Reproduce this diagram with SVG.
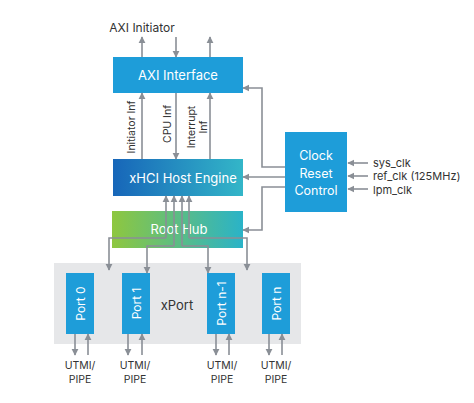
<svg xmlns="http://www.w3.org/2000/svg" width="474" height="403" viewBox="0 0 474 403">
<defs>
<style>
.box{fill:#1e9dd9}
.t{font-family:Inter,"Noto Sans",sans-serif;fill:#fff;text-anchor:middle;dominant-baseline:central}
.d{font-family:Inter,"Noto Sans",sans-serif;fill:#333;dominant-baseline:central}
.ln{fill:none;stroke:#8a8f96;stroke-width:1.6}
.ar{fill:none;stroke:#8a8f96;stroke-width:1.6;marker-end:url(#ah)}
</style>
<marker id="ah" viewBox="0 0 10 10" refX="9" refY="5" markerWidth="4.5" markerHeight="4.5" orient="auto" markerUnits="strokeWidth">
<path d="M0,0 L10,5 L0,10 z" fill="#8a8f96"/>
</marker>
<linearGradient id="gx" x1="0" y1="0" x2="1" y2="0">
<stop offset="0" stop-color="#1766b9"/>
<stop offset="1" stop-color="#33b6c8"/>
</linearGradient>
<linearGradient id="gr" x1="0" y1="0" x2="1" y2="0">
<stop offset="0" stop-color="#8ec73f"/>
<stop offset="1" stop-color="#2ab3c8"/>
</linearGradient>
</defs>
<rect width="474" height="403" fill="#fff"/>

<g id="xport-area">
<rect x="54" y="263" width="247" height="81" fill="#e6e7e9"/>
<text class="d" x="177" y="305" font-size="13" text-anchor="middle">xPort</text>
</g>

<g id="axi-initiator-label">
<text class="d" x="142" y="27" font-size="12" text-anchor="middle">AXI Initiator</text>
</g>

<g id="axi-interface">
<rect class="box" x="113" y="57" width="130" height="36"/>
<text class="t" x="178" y="75" font-size="13">AXI Interface</text>
</g>

<g id="xhci-host-engine">
<rect x="113" y="159" width="130" height="37" fill="url(#gx)"/>
<text class="t" x="183" y="177.5" font-size="13">xHCI Host Engine</text>
</g>

<g id="root-hub">
<rect x="112" y="211" width="131" height="37" fill="url(#gr)"/>
<text class="t" x="179" y="228.5" font-size="13">Root Hub</text>
</g>

<g id="clock-reset-control">
<rect class="box" x="285" y="132" width="62" height="80"/>
<text class="t" x="316" y="155" font-size="12.5">Clock</text>
<text class="t" x="316" y="173" font-size="12.5">Reset</text>
<text class="t" x="316" y="190" font-size="12.5">Control</text>
</g>

<g id="port-0">
<rect class="box" x="66" y="273" width="28" height="61"/>
<text class="t" transform="translate(80,303.5) rotate(-90)" font-size="12">Port 0</text>
</g>
<g id="port-1">
<rect class="box" x="122" y="273" width="28" height="61"/>
<text class="t" transform="translate(136,303.5) rotate(-90)" font-size="12">Port 1</text>
</g>
<g id="port-n-1">
<rect class="box" x="207" y="273" width="28" height="61"/>
<text class="t" transform="translate(221,303.5) rotate(-90)" font-size="12">Port n-1</text>
</g>
<g id="port-n">
<rect class="box" x="262" y="273" width="28" height="61"/>
<text class="t" transform="translate(276,303.5) rotate(-90)" font-size="12">Port n</text>
</g>

<g id="labels">
<text class="d" transform="translate(131,127) rotate(-90)" font-size="10.5" text-anchor="middle">Initiator Inf</text>
<text class="d" transform="translate(167,124) rotate(-90)" font-size="10.5" text-anchor="middle">CPU Inf</text>
<text class="d" transform="translate(191,127) rotate(-90)" font-size="10.5" text-anchor="middle">Interrupt</text>
<text class="d" transform="translate(203,127) rotate(-90)" font-size="10.5" text-anchor="middle">Inf</text>
<text class="d" x="373" y="162.5" font-size="11">sys_clk</text>
<text class="d" x="373" y="176" font-size="11">ref_clk (125MHz)</text>
<text class="d" x="373" y="189.5" font-size="11">lpm_clk</text>
<text class="d" x="80" y="365" font-size="10.5" text-anchor="middle">UTMI/</text>
<text class="d" x="80" y="379" font-size="10.5" text-anchor="middle">PIPE</text>
<text class="d" x="135" y="365" font-size="10.5" text-anchor="middle">UTMI/</text>
<text class="d" x="135" y="379" font-size="10.5" text-anchor="middle">PIPE</text>
<text class="d" x="222" y="365" font-size="10.5" text-anchor="middle">UTMI/</text>
<text class="d" x="222" y="379" font-size="10.5" text-anchor="middle">PIPE</text>
<text class="d" x="276" y="365" font-size="10.5" text-anchor="middle">UTMI/</text>
<text class="d" x="276" y="379" font-size="10.5" text-anchor="middle">PIPE</text>
</g>

<g id="connectors">
<path class="ar" d="M142,57 V37"/>
<path class="ar" d="M176,37 V57"/>
<path class="ar" d="M210,57 V37"/>
<path class="ar" d="M142,159 V93"/>
<path class="ar" d="M176,93 V159"/>
<path class="ar" d="M210,159 V93"/>
<path class="ar" d="M285,167 H262 V88 H243"/>
<path class="ar" d="M285,177 H243"/>
<path class="ar" d="M285,187 H262 V230 H243"/>
<path class="ar" d="M368,163 H348"/>
<path class="ar" d="M368,176 H348"/>
<path class="ar" d="M368,189 H348"/>
<path class="ar" d="M166,238 V196"/>
<path class="ar" d="M174,246 V196"/>
<path class="ar" d="M182,246 V196"/>
<path class="ar" d="M189,238 V196"/>
<path class="ar" d="M166,238 H109 V270"/>
<path class="ar" d="M174,246 H147 V273"/>
<path class="ar" d="M182,246 H208 V273"/>
<path class="ar" d="M189,238 H247 V270"/>
<path class="ar" d="M75,334 V355"/>
<path class="ar" d="M88,355 V334"/>
<path class="ar" d="M128,334 V355"/>
<path class="ar" d="M142,355 V334"/>
<path class="ar" d="M216,334 V355"/>
<path class="ar" d="M229,355 V334"/>
<path class="ar" d="M269,334 V355"/>
<path class="ar" d="M282,355 V334"/>
</g>
</svg>
